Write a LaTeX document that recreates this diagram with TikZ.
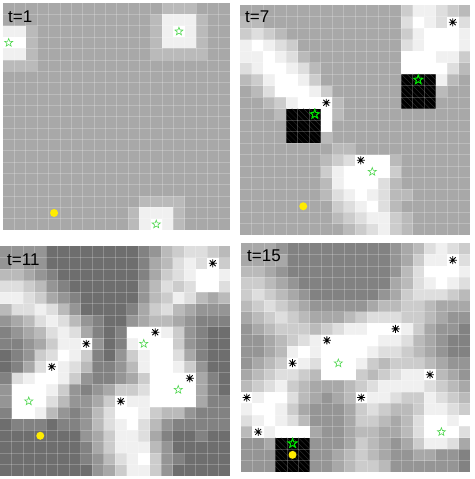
\documentclass[tikz,border=0pt]{standalone}
\usepackage{fontspec}
\setmainfont{Liberation Sans}
\usetikzlibrary{shapes.geometric}
\definecolor{gl0}{gray}{0.38}
\definecolor{gl1}{gray}{0.43}
\definecolor{gl2}{gray}{0.51}
\definecolor{gl3}{gray}{0.585}
\definecolor{gl4}{gray}{0.66}
\definecolor{gl5}{gray}{0.73}
\definecolor{gl6}{gray}{0.80}
\definecolor{gl7}{gray}{0.87}
\definecolor{gl8}{gray}{0.94}
\definecolor{gl9}{gray}{1.00}
\definecolor{glk}{gray}{0.00}
\definecolor{stargreen}{RGB}{80,215,80}
\definecolor{starbright}{RGB}{0,235,0}
\definecolor{dotyellow}{RGB}{255,236,0}
\newcount\cellcol
\def\kchar{k}
\makeatletter
\newcommand\heatpanel[1]{%
\foreach \rowstr [count=\ri from 0] in {#1}{%
\global\cellcol=0
\expandafter\@tfor\expandafter\ch\expandafter:\expandafter=\rowstr\do{%
\fill[fill=gl\ch] (\the\cellcol,\ri) rectangle ++(1.02,1.02);%
\ifx\ch\kchar\draw[diagline] (\the\cellcol,\ri) -- ++(1,1) (\the\cellcol+0.5,\ri) -- ++(0.5,0.5) (\the\cellcol,\ri+0.5) -- ++(0.5,0.5);\fi
\global\advance\cellcol by 1
}%
}%
\foreach \i in {1,...,19}{\draw[gridline] (\i,0) -- (\i,20); \draw[gridline] (0,\i) -- (20,\i);}%
}
\makeatother
\newcommand\astk[3]{\coordinate (#1) at (#2,#3);
\draw[astline] (#1) +(-4pt,0) -- +(4pt,0) +(0,-4pt) -- +(0,4pt) +(-2.9pt,-2.9pt) -- +(2.9pt,2.9pt) +(-2.9pt,2.9pt) -- +(2.9pt,-2.9pt);}
\tikzset{
gridline/.style={white, opacity=0.22, line width=0.5pt},
diagline/.style={gray!40!black, line width=0.35pt},
astline/.style={black, line width=0.8pt},
starlt/.style={star, star points=5, star point ratio=2.4, minimum size=8.5pt, inner sep=0pt, draw=stargreen, line width=0.6pt},
starbr/.style={star, star points=5, star point ratio=2.4, minimum size=9.5pt, inner sep=0pt, draw=starbright, line width=1pt},
ydot/.style={circle, fill=dotyellow, minimum size=8pt, inner sep=0pt},
ttl/.style={anchor=base west, inner sep=0pt, font=\fontsize{17}{17}\selectfont, text=black}
}
\begin{document}
\begin{tikzpicture}
\fill[white] (0,0) rectangle (474pt,-479pt);
\useasboundingbox (0,0) rectangle (474pt,-479pt);
% ---------- panel 1 : t=1
\begin{scope}[shift={(3pt,-3pt)}, x=11.35pt, y=-11.35pt]
\heatpanel{%
44444444444444555444,%
44444444444445888544,%
88544444444445898544,%
99544444444445888544,%
88544444444445555544,%
55544444444444444444,%
44444444444444444444,%
44444444444444444444,%
44444444444444444444,%
44444444444444444444,%
44444444444444444444,%
44444444444444444444,%
44444444444444444444,%
44444444444444444444,%
44444444444444444444,%
44444444444444444444,%
44444444444444444444,%
44444444444455554444,%
44444444444588854444,%
44444444444589854444%
}
\node[starlt] (p1s1) at (0.5,3.5) {};
\node[starlt] (p1s2) at (15.5,2.5) {};
\node[starlt] (p1s3) at (13.5,19.5) {};
\node[ydot] (p1d) at (4.5,18.5) {};
\end{scope}
\node[ttl] (t1) at (8pt,-23pt) {t=1};
% ---------- panel 2 : t=7
\begin{scope}[shift={(240pt,-5pt)}, x=11.5pt, y=-11.5pt]
\heatpanel{%
44444444444444688765,%
55444444444444798797,%
67654444444444689998,%
89876444444444789998,%
88987544444444999886,%
78998754444444999975,%
56899864444444kkk854,%
45799986444444kkk544,%
44568999544444kkk444,%
4445kkk9544444444444,%
4444kkk9444444444444,%
4444kkk5444444444444,%
44444444554444444444,%
44444445679995444444,%
44444446899996444444,%
44444445899975444444,%
44444445789875544444,%
44444444678975444444,%
44444444567886544444,%
44444444456786544444%
}
\node[starbr] (p2s1) at (6.5,9.5) {};
\node[starbr] (p2s2) at (15.5,6.5) {};
\node[starlt] (p2s3) at (11.5,14.5) {};
\astk{p2a1}{18.5}{1.5}
\astk{p2a2}{7.5}{8.5}
\astk{p2a3}{10.5}{13.5}
\node[ydot] (p2d) at (5.5,17.5) {};
\end{scope}
\node[ttl] (t7) at (245pt,-23pt) {t=7};
% ---------- panel 3 : t=11
\begin{scope}[shift={(0pt,-246pt)}, x=11.5pt, y=-11.5pt]
\heatpanel{%
33331111111123567765,%
34331111111124578796,%
55432111111124678998,%
77653211111135767997,%
88764321111135687545,%
57787531111246754333,%
34578753211345543222,%
23457874212999863211,%
22346889312899963211,%
12367986213689974211,%
12479875223589986311,%
27899863223469999421,%
39998632346679999421,%
39997533469889999422,%
29985323579986553222,%
12221223578975322222,%
11111113468874211211,%
11111112468885311111,%
11111112357896321111,%
11111111346886311111%
}
\astk{p3a1}{18.5}{1.5}
\astk{p3a2}{13.5}{7.5}
\astk{p3a3}{7.5}{8.5}
\astk{p3a4}{4.5}{10.5}
\astk{p3a5}{16.5}{11.5}
\astk{p3a6}{10.5}{13.5}
\node[starlt] (p3s1) at (12.5,8.5) {};
\node[starlt] (p3s2) at (15.5,12.5) {};
\node[starlt] (p3s3) at (2.5,13.5) {};
\node[ydot] (p3d) at (3.5,16.5) {};
\end{scope}
\node[ttl] (t11) at (7pt,-265pt) {t=11};
% ---------- panel 4 : t=15
\begin{scope}[shift={(241pt,-243pt)}, x=11.45pt, y=-11.45pt]
\heatpanel{%
44432222222223457876,%
44442222222223468897,%
55432222222223579998,%
66543222222224578987,%
67654322222234677765,%
56765433333455665444,%
45676544456777665433,%
34566656788999864332,%
33456789999988754322,%
33458989999877654322,%
34569879998656665433,%
45677659996567889543,%
56786544456788887654,%
98997543459887668765,%
89986433346765568876,%
78987533346654579989,%
59899943345544579997,%
334kkk33346543468874,%
333kkk33456543344332,%
333kkk33456653333332%
}
\astk{p4a1}{18.5}{1.5}
\astk{p4a2}{13.5}{7.5}
\astk{p4a3}{7.5}{8.5}
\astk{p4a4}{4.5}{10.5}
\astk{p4a5}{16.5}{11.5}
\astk{p4a6}{0.5}{13.5}
\astk{p4a7}{10.5}{13.5}
\astk{p4a8}{1.5}{16.5}
\node[starlt] (p4s1) at (8.5,10.5) {};
\node[starlt] (p4s2) at (17.5,16.5) {};
\node[starbr] (p4s3) at (4.5,17.5) {};
\node[ydot] (p4d) at (4.5,18.5) {};
\end{scope}
\node[ttl] (t15) at (247pt,-261pt) {t=15};
\end{tikzpicture}
\end{document}
